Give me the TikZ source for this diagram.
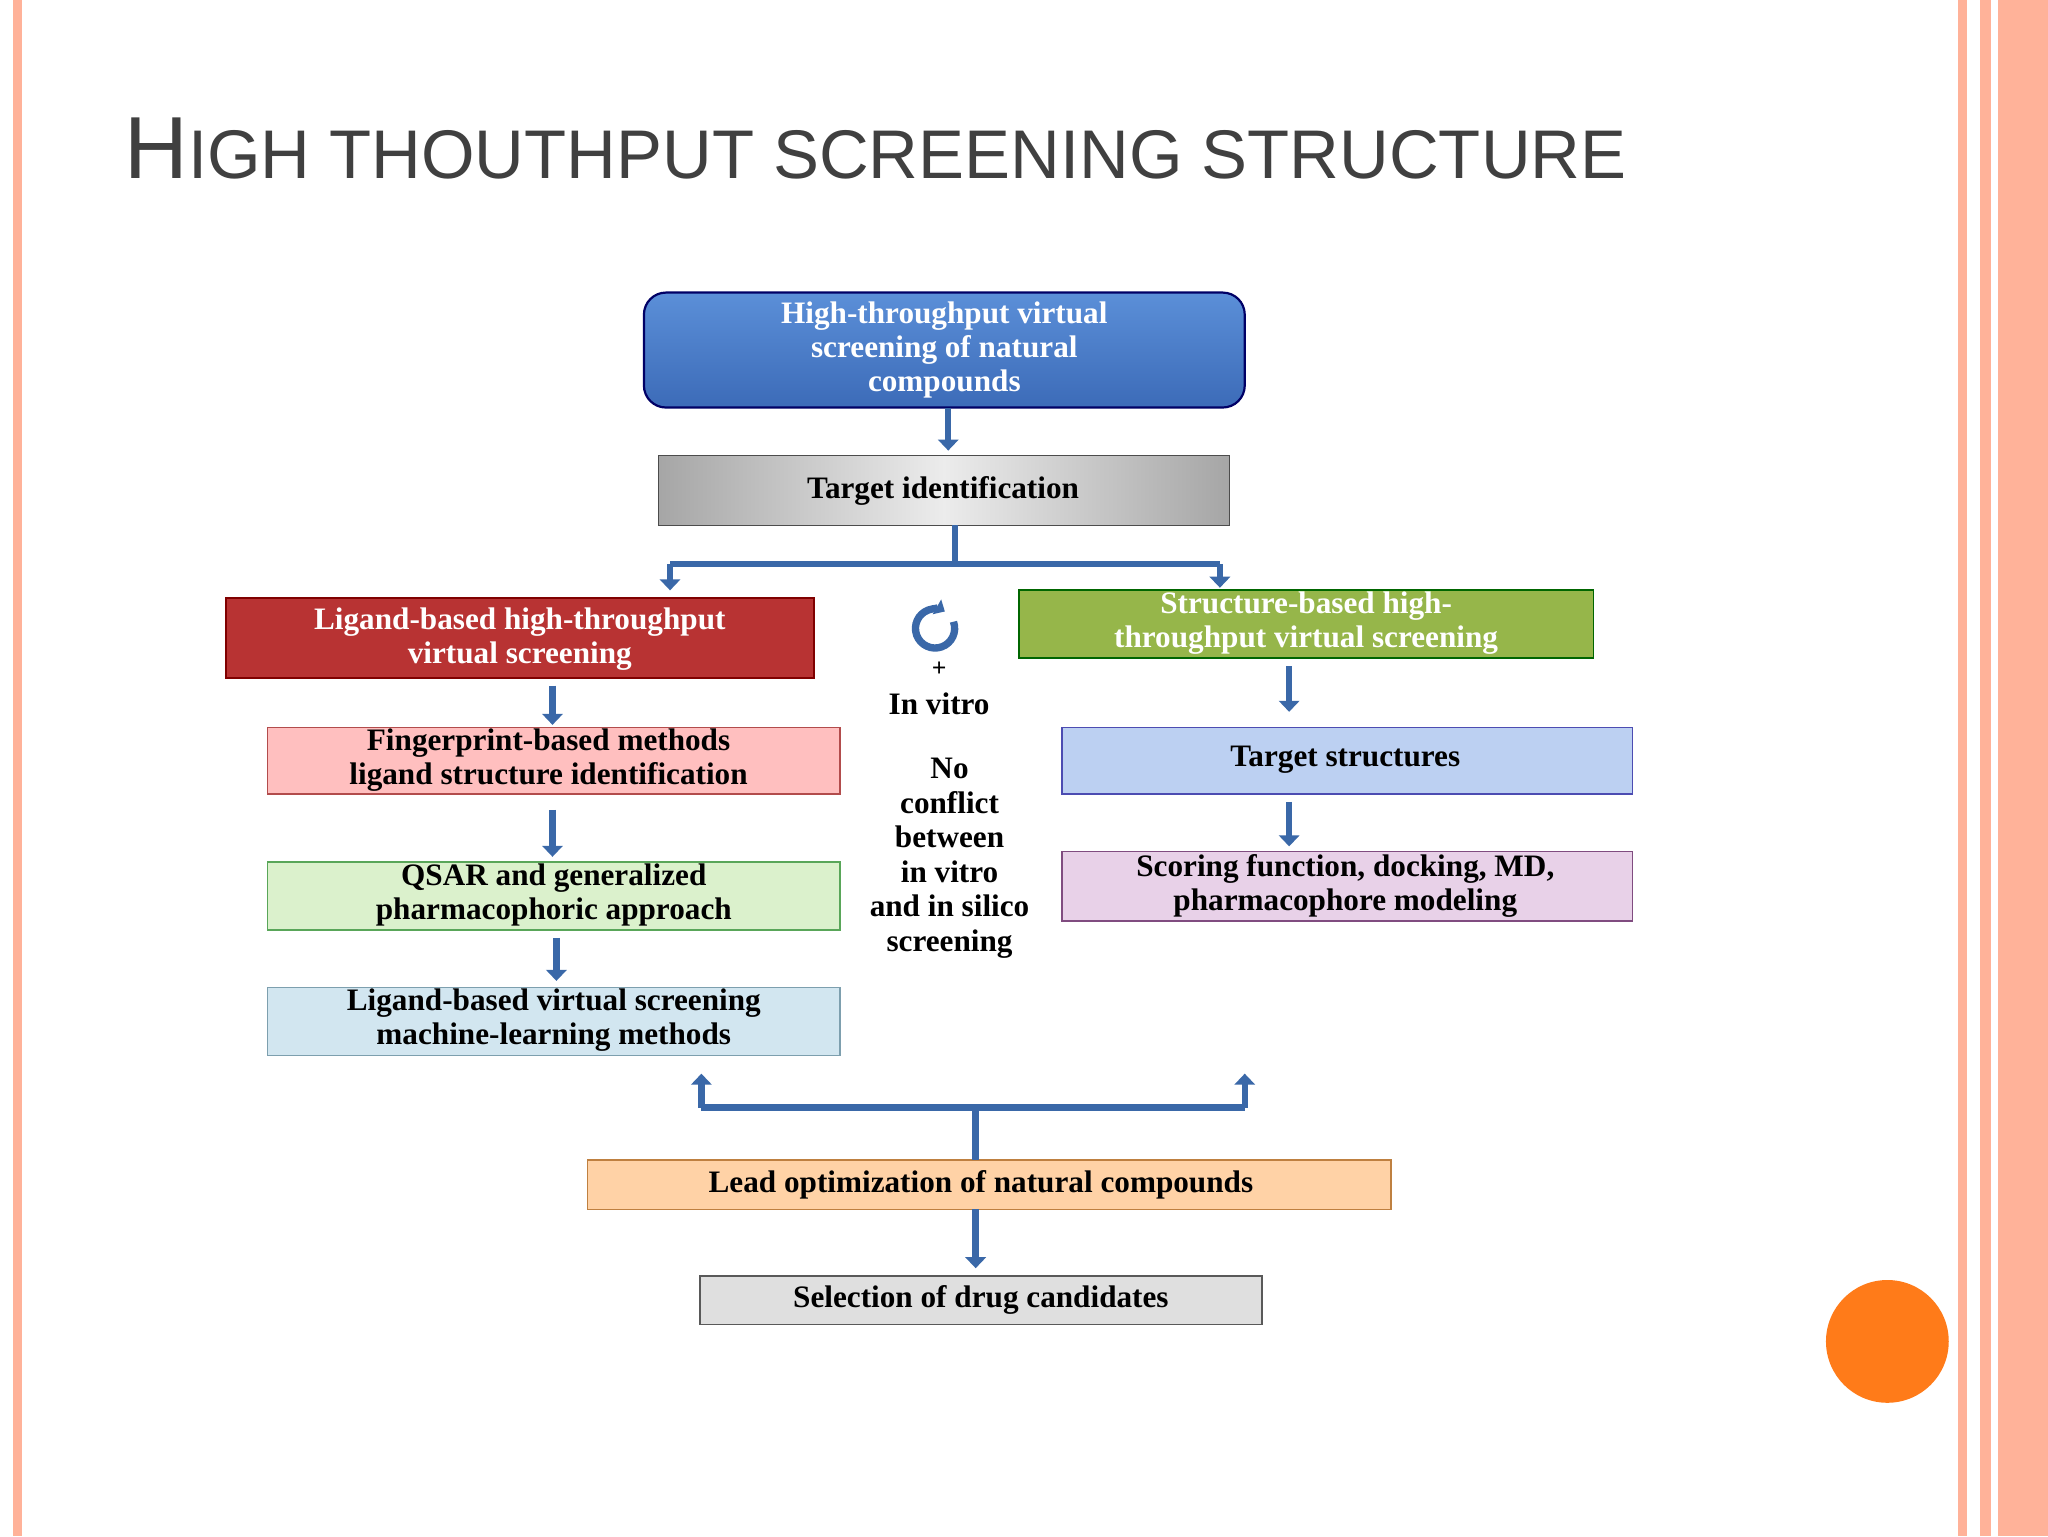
\documentclass[tikz,border=0pt]{standalone}
\usepackage{fontspec}
\setmainfont{Liberation Serif}
\newfontfamily\titlefont{Liberation Sans}
\usetikzlibrary{arrows.meta}
\definecolor{arr}{HTML}{3A68A8}
\definecolor{topA}{HTML}{5B8FD8}
\definecolor{topB}{HTML}{3C6BB8}
\definecolor{mlc}{HTML}{D2E6F0}
\definecolor{tsc}{HTML}{BCD0F2}
\tikzset{x=0.25mm,y=-0.25mm,
 tx/.style={align=center,font=\fontsize{17}{18.5}\selectfont\bfseries},
 ar/.style={draw=arr,line width=3.5pt,-{Triangle[width=11pt,length=6pt]}},
 ln/.style={draw=arr,line width=3.5pt}}
\begin{document}
\begin{tikzpicture}
\useasboundingbox (0,0) rectangle (1568,1176);
\fill[white] (0,0) rectangle (1568,1176);
\fill[red!50!orange!40] (10,0) rectangle (17,1176);
\fill[red!50!orange!40] (1499,0) rectangle (1506,1176);
\fill[red!50!orange!40] (1516,0) rectangle (1568,1176);
\fill[white] (1524,0) rectangle (1530,1176);
\fill[orange!85!red!90] (1445,1027) circle (47);
\node[anchor=base west,inner sep=0,text=black!75,font=\titlefont] (title) at (95,137)
 {\fontsize{48}{56}\selectfont H\fontsize{37.5}{46}\selectfont IGH THOUTHPUT SCREENING STRUCTURE};
% boxes
\fill[top color=topA, bottom color=topB, draw=blue!40!black, line width=1.2pt, rounded corners=12pt] (493,224) rectangle (953,312);
\node[tx,text=white] (top) at (723,268) {High-throughput virtual\\screening of natural\\compounds};
\shade[left color=gray!70, right color=gray!70, middle color=gray!15, draw=gray!60!black] (504,349) rectangle (941,402);
\node[tx] (tgt) at (722,376) {Target identification};
\fill[red!65!black!80!white, draw=red!50!black,line width=1pt] (173,458) rectangle (623,519);
\node[tx,text=white] (lig) at (398,489) {Ligand-based high-throughput\\virtual screening};
\fill[olive!60!green!70!white, draw=green!40!black,line width=1pt] (780,452) rectangle (1220,504);
\node[tx,text=white] (str) at (1000,477) {Structure-based high-\\throughput virtual screening};
\fill[red!25, draw=red!40!gray,line width=0.8pt] (205,557) rectangle (643,608);
\node[tx] (fp) at (420,582) {Fingerprint-based methods\\ligand structure identification};
\fill[yellow!30!green!20, draw=green!30!gray,line width=0.8pt] (205,660) rectangle (643,712);
\node[tx] (qsar) at (424,685) {QSAR and generalized\\pharmacophoric approach};
\fill[mlc, draw=cyan!30!gray,line width=0.8pt] (205,756) rectangle (643,808);
\node[tx] (ml) at (424,781) {Ligand-based virtual screening\\machine-learning methods};
\fill[tsc, draw=blue!40!gray,line width=0.8pt] (813,557) rectangle (1250,608);
\node[tx] (ts) at (1030,582) {Target structures};
\fill[violet!18, draw=violet!40!gray,line width=0.8pt] (813,652) rectangle (1250,705);
\node[tx] (sc) at (1030,678) {Scoring function, docking, MD,\\pharmacophore modeling};
\fill[orange!35, draw=orange!50!gray,line width=0.8pt] (450,888) rectangle (1065,926);
\node[tx] (lead) at (751,907) {Lead optimization of natural compounds};
\fill[gray!25, draw=gray!70!black,line width=1pt] (536,977) rectangle (966,1014);
\node[tx] (sel) at (751,995) {Selection of drug candidates};
% middle
\draw[arr,line width=4pt,-{Triangle[width=9pt,length=5pt]}] (730,476) arc (-20:300:15);
\node[font=\fontsize{14}{14}\selectfont\bfseries] (plus) at (719,512) {+};
\node[tx] (iv) at (719,539) {In vitro};
\node[align=center,font=\fontsize{17}{18.8}\selectfont\bfseries] (nc) at (727,657) {No\\conflict\\between\\in vitro\\and in silico\\screening};
% coordinates
\coordinate (a0) at (726,312); \coordinate (a1) at (726,345);
\coordinate (b1) at (731,432); \coordinate (bl) at (513,432); \coordinate (br) at (934,432);
\coordinate (u1) at (747,848); \coordinate (ul) at (537,848); \coordinate (ur) at (953,848);
\draw[ar] (a0) -- (a1);
\draw[ln] (731,402) -- (b1);
\draw[ln] (bl) -- (br);
\draw[ar] (bl) -- (513,452);
\draw[ar] (br) -- (934,450);
\draw[ar] (423,525) -- (423,555);
\draw[ar] (423,620) -- (423,656);
\draw[ar] (426,718) -- (426,751);
\draw[ar] (987,510) -- (987,545);
\draw[ar] (987,614) -- (987,648);
\draw[ln] (747,888) -- (u1);
\draw[ln] (ul) -- (ur);
\draw[ar] (ul) -- (537,822);
\draw[ar] (ur) -- (953,822);
\draw[ar] (747,926) -- (747,971);
\end{tikzpicture}
\end{document}
